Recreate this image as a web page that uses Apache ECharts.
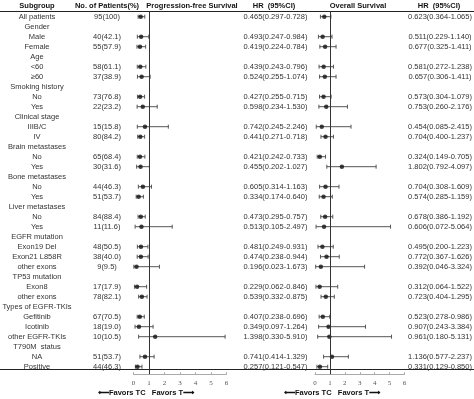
<!DOCTYPE html>
<html>
<head>
<meta charset="UTF-8">
<title>Forest plot</title>
<script src="https://cdn.jsdelivr.net/npm/echarts@6/dist/echarts.min.js"></script>
<style>
  html, body { margin: 0; padding: 0; background: #fff; }
  #main { width: 474px; height: 399px; }
</style>
</head>
<body>
<div id="main"></div>
<script>
// 数据
var subgroups = ['All patients', 'Gender', 'Male', 'Female', 'Age', '<60', '≥60', 'Smoking history', 'No', 'Yes',
  'Clinical stage', 'IIIB/C', 'IV', 'Brain metastases', 'No', 'Yes', 'Bone metastases', 'No', 'Yes',
  'Liver metastases', 'No', 'Yes', 'EGFR mutation', 'Exon19 Del', 'Exon21 L858R', 'other exons',
  'TP53 mutation', 'Exon8', 'other exons', 'Types of EGFR-TKIs', 'Gefitinib', 'Icotinib', 'other EGFR-TKIs',
  'T790M  status', 'NA', 'Positive'];
var patients = ['95(100)', '', '40(42.1)', '55(57.9)', '', '58(61.1)', '37(38.9)', '', '73(76.8)', '22(23.2)',
  '', '15(15.8)', '80(84.2)', '', '65(68.4)', '30(31.6)', '', '44(46.3)', '51(53.7)',
  '', '84(88.4)', '11(11.6)', '', '48(50.5)', '38(40.0)', '9(9.5)',
  '', '17(17.9)', '78(82.1)', '', '67(70.5)', '18(19.0)', '10(10.5)',
  '', '51(53.7)', '44(46.3)'];
var pfsHr = [0.465, null, 0.493, 0.419, null, 0.439, 0.524, null, 0.427, 0.598,
  null, 0.742, 0.441, null, 0.421, 0.455, null, 0.605, 0.334,
  null, 0.473, 0.513, null, 0.481, 0.474, 0.196,
  null, 0.229, 0.539, null, 0.407, 0.349, 1.398,
  null, 0.741, 0.257];
var pfsLo = [0.297, null, 0.247, 0.224, null, 0.243, 0.255, null, 0.255, 0.234,
  null, 0.245, 0.271, null, 0.242, 0.202, null, 0.314, 0.174,
  null, 0.295, 0.105, null, 0.249, 0.238, 0.023,
  null, 0.062, 0.332, null, 0.238, 0.097, 0.330,
  null, 0.414, 0.121];
var pfsHi = [0.728, null, 0.984, 0.784, null, 0.796, 1.074, null, 0.715, 1.530,
  null, 2.246, 0.718, null, 0.733, 1.027, null, 1.163, 0.640,
  null, 0.757, 2.497, null, 0.931, 0.944, 1.673,
  null, 0.846, 0.875, null, 0.696, 1.264, 5.910,
  null, 1.329, 0.547];
var osHr = [0.623, null, 0.511, 0.677, null, 0.581, 0.657, null, 0.573, 0.753,
  null, 0.454, 0.704, null, 0.324, 1.802, null, 0.704, 0.574,
  null, 0.678, 0.606, null, 0.495, 0.772, 0.392,
  null, 0.312, 0.723, null, 0.523, 0.907, 0.961,
  null, 1.136, 0.331];
var osLo = [0.364, null, 0.229, 0.325, null, 0.272, 0.306, null, 0.304, 0.260,
  null, 0.085, 0.400, null, 0.149, 0.792, null, 0.308, 0.285,
  null, 0.386, 0.072, null, 0.200, 0.367, 0.046,
  null, 0.064, 0.404, null, 0.278, 0.243, 0.180,
  null, 0.577, 0.129];
var osHi = [1.065, null, 1.140, 1.411, null, 1.238, 1.411, null, 1.079, 2.176,
  null, 2.415, 1.237, null, 0.705, 4.097, null, 1.609, 1.159,
  null, 1.192, 5.064, null, 1.223, 1.626, 3.324,
  null, 1.522, 1.295, null, 0.986, 3.384, 5.131,
  null, 2.237, 0.850];
var xTicks = [0, 1, 2, 3, 4, 5, 6];

var FONT = 'Liberation Sans, Arial, sans-serif';

function hrText(hr, lo, hi) {
  if (hr == null) return '';
  return hr.toFixed(3) + '(' + lo.toFixed(3) + '-' + hi.toFixed(3) + ')';
}

// 文字列（表格部分）
function textColumn(texts, xPos) {
  var data = [];
  texts.forEach(function (t, i) { data.push([0, i]); });
  return {
    type: 'custom',
    xAxisIndex: 0, yAxisIndex: 0,
    silent: true,
    data: data,
    renderItem: function (params, api) {
      var y = api.coord([0, api.value(1)])[1];
      return {
        type: 'text',
        x: xPos, y: y,
        style: {
          text: texts[params.dataIndex],
          align: 'center', verticalAlign: 'middle',
          font: '7.5px ' + FONT, fill: '#333'
        }
      };
    }
  };
}

// 置信区间
function ciSeries(lo, hi, gi) {
  var data = [];
  lo.forEach(function (v, i) { if (v != null) data.push([v, i, hi[i]]); });
  return {
    type: 'custom',
    xAxisIndex: gi, yAxisIndex: gi,
    silent: true,
    encode: { x: [0, 2], y: 1 },
    data: data,
    renderItem: function (params, api) {
      var p1 = api.coord([api.value(0), api.value(1)]);
      var p2 = api.coord([api.value(2), api.value(1)]);
      var st = { stroke: '#555', lineWidth: 1 };
      return {
        type: 'group',
        children: [
          { type: 'line', shape: { x1: p1[0], y1: p1[1], x2: p2[0], y2: p2[1] }, style: st },
          { type: 'line', shape: { x1: p1[0], y1: p1[1] - 2, x2: p1[0], y2: p1[1] + 2 }, style: st },
          { type: 'line', shape: { x1: p2[0], y1: p2[1] - 2, x2: p2[0], y2: p2[1] + 2 }, style: st }
        ]
      };
    }
  };
}

function pointSeries(hr, gi) {
  var data = [];
  hr.forEach(function (v, i) { if (v != null) data.push([v, i]); });
  return {
    type: 'scatter',
    xAxisIndex: gi, yAxisIndex: gi,
    silent: true,
    symbolSize: 4.5,
    itemStyle: { color: '#111' },
    data: data,
    markLine: {
      silent: true,
      symbol: 'none',
      label: { show: false },
      lineStyle: { color: '#333', width: 1, type: 'solid' },
      data: [{ xAxis: 1 }]
    }
  };
}

function plotXAxis(gi) {
  return {
    gridIndex: gi, type: 'value', min: 0, max: 6, interval: 1, position: 'bottom',
    axisLine: { show: true, onZero: false, lineStyle: { color: '#aaa', width: 1 } },
    axisTick: { show: true, inside: true, length: 2, lineStyle: { color: '#aaa' } },
    splitLine: { show: false },
    axisLabel: {
      margin: 5, fontSize: 7, color: '#555', fontFamily: 'Liberation Serif, serif',
      formatter: function (v) { return xTicks.indexOf(v) >= 0 ? String(v) : ''; }
    }
  };
}
function plotYAxis(gi) {
  return { gridIndex: gi, type: 'value', inverse: true, min: -0.55, max: 35.75, show: false };
}

var chart = echarts.init(document.getElementById('main'));

var headerStyle = { font: 'bold 7.5px ' + FONT, fill: '#111', align: 'center', verticalAlign: 'middle' };
var favStyle = { font: 'bold 7.5px ' + FONT, fill: '#111', align: 'center', verticalAlign: 'middle' };

var option = {
  animation: false,
  backgroundColor: '#fff',
  grid: [
    { left: 0, right: 0, top: 11, height: 358 },
    { left: 133.5, width: 93, top: 11.2, height: 363 },
    { left: 315, width: 89.5, top: 11.2, height: 363 }
  ],
  xAxis: [
    { gridIndex: 0, type: 'value', min: 0, max: 1, position: 'top',
      axisLine: { show: true, onZero: false, lineStyle: { color: '#222', width: 1 } },
      axisTick: { show: false }, axisLabel: { show: false }, splitLine: { show: false } },
    plotXAxis(1),
    plotXAxis(2),
    { gridIndex: 0, type: 'value', min: 0, max: 1, position: 'bottom',
      axisLine: { show: true, onZero: false, lineStyle: { color: '#222', width: 1 } },
      axisTick: { show: false }, axisLabel: { show: false }, splitLine: { show: false } }
  ],
  yAxis: [
    { gridIndex: 0, type: 'value', inverse: true, min: -0.57, max: 35.23, show: false },
    plotYAxis(1),
    plotYAxis(2)
  ],
  graphic: [
    { type: 'text', x: 37, y: 6, style: Object.assign({ text: 'Subgroup' }, headerStyle) },
    { type: 'text', x: 107, y: 6, style: Object.assign({ text: 'No. of Patients(%)' }, headerStyle) },
    { type: 'text', x: 192, y: 6, style: Object.assign({ text: 'Progression-free Survival' }, headerStyle) },
    { type: 'text', x: 274, y: 6, style: Object.assign({ text: 'HR  (95%CI)' }, headerStyle) },
    { type: 'text', x: 358, y: 6, style: Object.assign({ text: 'Overall Survival' }, headerStyle) },
    { type: 'text', x: 439, y: 6, style: Object.assign({ text: 'HR  (95%CI)' }, headerStyle) },
    { type: 'text', x: 146, y: 393, style: Object.assign({ text: '⟵Favors TC   Favors T⟶' }, favStyle) },
    { type: 'text', x: 332, y: 393, style: Object.assign({ text: '⟵Favors TC   Favors T⟶' }, favStyle) }
  ],
  series: [
    textColumn(subgroups, 37),
    textColumn(patients, 107),
    textColumn(pfsHr.map(function (v, i) { return hrText(v, pfsLo[i], pfsHi[i]); }), 275.5),
    textColumn(osHr.map(function (v, i) { return hrText(v, osLo[i], osHi[i]); }), 440),
    ciSeries(pfsLo, pfsHi, 1),
    pointSeries(pfsHr, 1),
    ciSeries(osLo, osHi, 2),
    pointSeries(osHr, 2)
  ]
};

chart.setOption(option);
</script>
</body>
</html>
